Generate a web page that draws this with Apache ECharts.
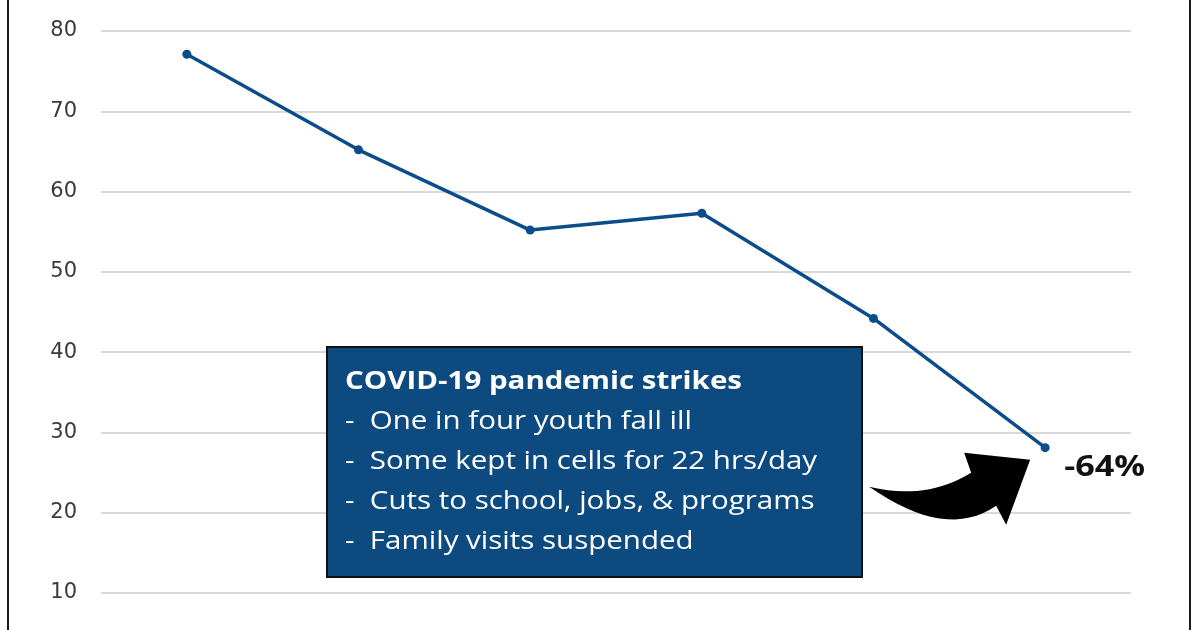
<!DOCTYPE html>
<html>
<head>
<meta charset="utf-8">
<script src="https://cdn.jsdelivr.net/npm/echarts@6/dist/echarts.min.js"></script>
<style>
  html, body { margin: 0; padding: 0; background: #fff; }
  #chart { width: 1200px; height: 630px; }
</style>
</head>
<body>
<div id="chart"></div>
<script>
// values
const periods = ['P1', 'P2', 'P3', 'P4', 'P5', 'P6']
const values = [77.1, 65.2, 55.2, 57.3, 44.2, 28.1]
const yTicks = { min: 10, max: 80, interval: 10 }

const noteTitle = 'COVID-19 pandemic strikes'
const noteLines = [
  'One in four youth fall ill',
  'Some kept in cells for 22 hrs/day',
  'Cuts to school, jobs, & programs',
  'Family visits suspended'
]

const BLUE = '#0b4c8a'
const BOX = '#0c4a7f'

const chart = echarts.init(document.getElementById('chart'), null, { renderer: 'canvas' })

const change = Math.round((values[values.length - 1] - values[0]) / values[0] * 100)

chart.setOption({
  animation: false,
  textStyle: { fontFamily: 'Open Sans' },
  grid: { left: 101, right: 69, top: 31, bottom: 37 },
  xAxis: {
    type: 'category',
    data: periods,
    boundaryGap: true,
    axisLine: { show: false },
    axisTick: { show: false },
    axisLabel: { show: false }
  },
  yAxis: {
    type: 'value',
    min: yTicks.min,
    max: yTicks.max,
    interval: yTicks.interval,
    axisLine: { show: false },
    axisTick: { show: false },
    axisLabel: { color: '#3a3a3a', fontSize: 21, margin: 24, fontFamily: 'DejaVu Sans' },
    splitLine: { lineStyle: { color: '#d9d9d9', width: 2 } }
  },
  series: [{
    type: 'line',
    data: values,
    symbol: 'circle',
    symbolSize: 9,
    lineStyle: { color: BLUE, width: 3.5 },
    itemStyle: { color: BLUE }
  }]
})

// quadratic curve sampled into points (for the arrow outline)
function quad(p0, c, p1, n) {
  const out = []
  for (let i = 0; i <= n; i++) {
    const t = i / n, u = 1 - t
    out.push([u * u * p0[0] + 2 * u * t * c[0] + t * t * p1[0], u * u * p0[1] + 2 * u * t * c[1] + t * t * p1[1]])
  }
  return out
}

// annotation box + curved arrow pointing at the last point
const last = chart.convertToPixel({ seriesIndex: 0 }, [values.length - 1, values[values.length - 1]])
const ax = last[0], ay = last[1]

const arrowPts = [].concat(
  quad([-176, 39], [-119, 53], [-74, 25], 16),
  [[-81, 5], [-15, 12], [-39, 77]],
  quad([-49, 58], [-99, 93], [-176, 39], 16)
)

let rich = '{t|' + noteTitle + '}'
noteLines.forEach(l => { rich += '\n{b|-  ' + l + '}' })

chart.setOption({
  graphic: [
    {
      type: 'rect',
      shape: { x: 8, y: -10, width: 1182, height: 650 },
      style: { fill: 'none', stroke: '#1a1a1a', lineWidth: 2 },
      silent: true
    },
    {
      type: 'rect',
      shape: { x: 327, y: 347, width: 535, height: 230 },
      style: { fill: BOX, stroke: '#111', lineWidth: 2 },
      z: 10
    },
    {
      type: 'text',
      x: 345,
      y: 362,
      scaleX: 1.18,
      z: 11,
      style: {
        text: rich,
        fill: '#fff',
        fontFamily: 'Open Sans',
        lineHeight: 40,
        rich: {
          t: { fontSize: 25, fontWeight: 'bold', fill: '#fff', lineHeight: 40, fontFamily: 'Open Sans' },
          b: { fontSize: 25, fill: '#fff', lineHeight: 40, fontFamily: 'Open Sans' }
        }
      }
    },
    {
      type: 'polygon',
      x: ax,
      y: ay,
      z: 12,
      shape: { points: arrowPts },
      style: { fill: '#000' }
    },
    {
      type: 'text',
      x: ax + 19,
      y: ay + 20,
      scaleX: 1.18,
      z: 12,
      style: {
        text: change + '%',
        fill: '#111',
        fontSize: 29,
        fontWeight: 'bold',
        fontFamily: 'Open Sans',
        verticalAlign: 'middle'
      }
    }
  ]
})
</script>
</body>
</html>
